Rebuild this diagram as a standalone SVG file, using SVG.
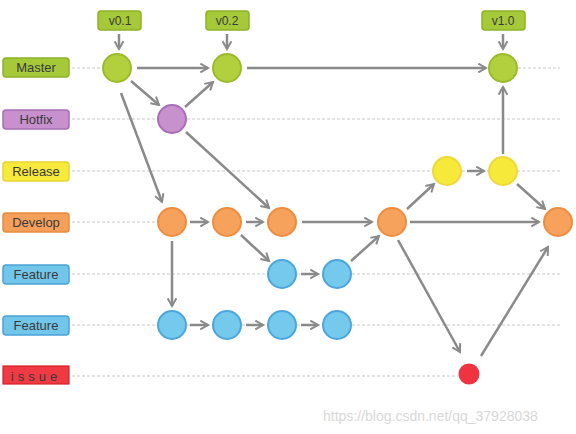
<svg xmlns="http://www.w3.org/2000/svg" width="576" height="434" viewBox="0 0 576 434">
<style>
.lbl{font-family:"Liberation Sans",Arial,sans-serif;font-size:13px;fill:#3a3a3a;text-anchor:middle}
.tag{font-family:"Liberation Sans",Arial,sans-serif;font-size:12px;fill:#3a3a3a;text-anchor:middle}
.grid{stroke:#c8c8c8;stroke-width:1;stroke-dasharray:3 2;fill:none}
.edge{stroke:#8a8a8a;stroke-width:2.5;fill:none;marker-end:url(#ah)}
.g{fill:#b2cf3e;stroke:#9bbb2a;stroke-width:2}
.p{fill:#c791cd;stroke:#a86db6;stroke-width:2}
.y{fill:#f7e93a;stroke:#eed83a;stroke-width:2}
.o{fill:#f6a25c;stroke:#ef8c3e;stroke-width:2}
.b{fill:#74c9ec;stroke:#4aa6dc;stroke-width:2}
</style>
<defs>
<marker id="ah" viewBox="0 0 10 10" refX="8" refY="5" markerWidth="4.4" markerHeight="4.4" orient="auto" markerUnits="strokeWidth">
<path d="M1,1 L8,5 L1,9" fill="none" stroke="#8a8a8a" stroke-width="1.8"/>
</marker>
</defs>
<rect width="576" height="434" fill="#fff"/>
<g id="gridlines">
<line class="grid" x1="72" y1="68" x2="103" y2="68"/>
<line class="grid" x1="518" y1="68" x2="560" y2="68"/>
<line class="grid" x1="72" y1="119" x2="560" y2="119"/>
<line class="grid" x1="72" y1="171" x2="560" y2="171"/>
<line class="grid" x1="72" y1="222" x2="158" y2="222"/>
<line class="grid" x1="72" y1="274" x2="560" y2="274"/>
<line class="grid" x1="72" y1="325" x2="560" y2="325"/>
<line class="grid" x1="72" y1="376" x2="458" y2="376"/>
</g>
<g id="labels">
<g id="lbl-master"><rect x="3" y="58" width="66" height="19" rx="3" fill="#a6c93a" stroke="#8db228" stroke-width="1.5"/><text class="lbl" x="36" y="72">Master</text></g>
<g id="lbl-hotfix"><rect x="3" y="110" width="66" height="19" rx="3" fill="#c890cd" stroke="#a66fb5" stroke-width="1.5"/><text class="lbl" x="36" y="124">Hotfix</text></g>
<g id="lbl-release"><rect x="3" y="162" width="66" height="19" rx="3" fill="#f7ea3c" stroke="#e7d52e" stroke-width="1.5"/><text class="lbl" x="36" y="176">Release</text></g>
<g id="lbl-develop"><rect x="3" y="213" width="66" height="19" rx="3" fill="#f5a05a" stroke="#e98a3c" stroke-width="1.5"/><text class="lbl" x="36" y="227">Develop</text></g>
<g id="lbl-feature1"><rect x="3" y="265" width="66" height="19" rx="3" fill="#72c6ea" stroke="#4ba3d6" stroke-width="1.5"/><text class="lbl" x="36" y="279">Feature</text></g>
<g id="lbl-feature2"><rect x="3" y="316" width="66" height="19" rx="3" fill="#72c6ea" stroke="#4ba3d6" stroke-width="1.5"/><text class="lbl" x="36" y="330">Feature</text></g>
<g id="lbl-issue"><rect x="3" y="366" width="66" height="18" fill="#ef3a44" stroke="#d41e28" stroke-width="1.2"/><text class="lbl" x="36" y="381" font-size="15" letter-spacing="4" fill="#2a2a2a">issue</text></g>
</g>
<g id="tags">
<g id="tag-v01"><rect x="98" y="11" width="43" height="19" rx="3" fill="#a6c93a" stroke="#8db228" stroke-width="1.5"/><text class="tag" x="120" y="25">v0.1</text></g>
<g id="tag-v02"><rect x="206" y="11" width="43" height="19" rx="3" fill="#a6c93a" stroke="#8db228" stroke-width="1.5"/><text class="tag" x="227" y="25">v0.2</text></g>
<g id="tag-v10"><rect x="482" y="11" width="43" height="19" rx="3" fill="#a6c93a" stroke="#8db228" stroke-width="1.5"/><text class="tag" x="503" y="25">v1.0</text></g>
</g>
<g id="connectors">
<line class="edge" x1="119" y1="34" x2="119" y2="49"/>
<line class="edge" x1="227" y1="34" x2="227" y2="49"/>
<line class="edge" x1="503" y1="34" x2="503" y2="49"/>
<line class="edge" x1="137" y1="68" x2="208" y2="68"/>
<line class="edge" x1="247" y1="68" x2="486" y2="68"/>
<line class="edge" x1="131" y1="81" x2="159" y2="105"/>
<line class="edge" x1="185" y1="107" x2="213" y2="82"/>
<line class="edge" x1="121" y1="93" x2="162" y2="202"/>
<line class="edge" x1="186" y1="132" x2="269" y2="208"/>
<line class="edge" x1="190" y1="222" x2="208" y2="222"/>
<line class="edge" x1="246" y1="222" x2="263" y2="222"/>
<line class="edge" x1="241" y1="235" x2="269" y2="261"/>
<line class="edge" x1="302" y1="222" x2="372" y2="222"/>
<line class="edge" x1="172" y1="241" x2="172" y2="306"/>
<line class="edge" x1="301" y1="274" x2="318" y2="274"/>
<line class="edge" x1="351" y1="261" x2="379" y2="236"/>
<line class="edge" x1="407" y1="209" x2="434" y2="184"/>
<line class="edge" x1="467" y1="171" x2="484" y2="171"/>
<line class="edge" x1="503" y1="154" x2="503" y2="87"/>
<line class="edge" x1="517" y1="184" x2="545" y2="209"/>
<line class="edge" x1="410" y1="222" x2="539" y2="222"/>
<line class="edge" x1="398" y1="240" x2="460" y2="352"/>
<line class="edge" x1="481" y1="356" x2="548" y2="247"/>
<line class="edge" x1="190" y1="325" x2="208" y2="325"/>
<line class="edge" x1="246" y1="325" x2="263" y2="325"/>
<line class="edge" x1="301" y1="325" x2="318" y2="325"/>
</g>
<g id="n-m1"><circle class="g" cx="117" cy="68" r="14"/></g>
<g id="n-m2"><circle class="g" cx="227" cy="68" r="14"/></g>
<g id="n-m3"><circle class="g" cx="503" cy="68" r="14"/></g>
<g id="n-h1"><circle class="p" cx="172" cy="119" r="14"/></g>
<g id="n-r1"><circle class="y" cx="447" cy="171" r="14"/></g>
<g id="n-r2"><circle class="y" cx="503" cy="171" r="14"/></g>
<g id="n-d1"><circle class="o" cx="172" cy="222" r="14"/></g>
<g id="n-d2"><circle class="o" cx="227" cy="222" r="14"/></g>
<g id="n-d3"><circle class="o" cx="282" cy="222" r="14"/></g>
<g id="n-d4"><circle class="o" cx="392" cy="222" r="14"/></g>
<g id="n-d5"><circle class="o" cx="558" cy="222" r="14"/></g>
<g id="n-f1a"><circle class="b" cx="282" cy="274" r="14"/></g>
<g id="n-f1b"><circle class="b" cx="337" cy="274" r="14"/></g>
<g id="n-f2a"><circle class="b" cx="172" cy="325" r="14"/></g>
<g id="n-f2b"><circle class="b" cx="227" cy="325" r="14"/></g>
<g id="n-f2c"><circle class="b" cx="282" cy="325" r="14"/></g>
<g id="n-f2d"><circle class="b" cx="337" cy="325" r="14"/></g>
<g id="n-issue"><circle cx="469" cy="374" r="10.5" fill="#ef3340"/></g>
<text x="323" y="421" font-family="Liberation Sans,Arial,sans-serif" font-size="14" fill="#d8d8d8">https://blog.csdn.net/qq_37928038</text>
</svg>
